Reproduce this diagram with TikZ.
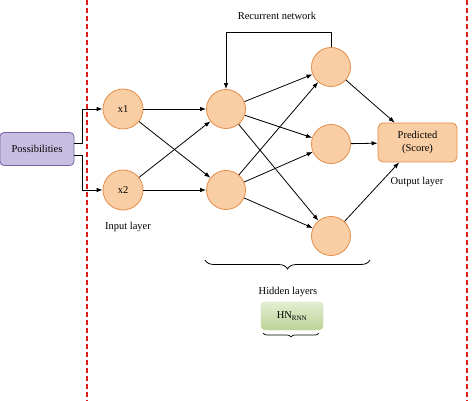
\documentclass[tikz,border=0pt]{standalone}
\usepackage{fontspec}
\setmainfont{Liberation Serif}
\usetikzlibrary{arrows.meta,decorations.pathreplacing,calc}
\definecolor{orfill}{RGB}{250,206,165}
\definecolor{ordraw}{RGB}{228,140,70}
\definecolor{pufill}{RGB}{200,190,226}
\definecolor{pudraw}{RGB}{118,100,160}
\definecolor{sepred}{RGB}{220,30,30}
\definecolor{gtop}{RGB}{228,238,210}
\definecolor{gbot}{RGB}{188,210,150}
\begin{document}
\begin{tikzpicture}[x=1pt,y=-1pt,
  every node/.style={font=\fontsize{10.5}{12.5}\selectfont},
  neuron/.style={circle,draw=ordraw,fill=orfill,line width=0.8pt,minimum size=39pt,inner sep=0pt},
  arr/.style={-{Latex[length=6pt,width=4.5pt]},line width=0.8pt},
  plain/.style={line width=0.8pt},
  sep/.style={color=sepred,line width=1.1pt,dash pattern=on 5pt off 3pt}]
\useasboundingbox (0,0) rectangle (474,401);
\fill[white] (0,0) rectangle (474,401);
\draw[sep] (87,0) -- (87,401);
\draw[sep] (467,0) -- (467,401);
\node[draw=pudraw,fill=pufill,rounded corners=4pt,line width=0.8pt,minimum width=74pt,minimum height=33pt,inner sep=0pt] (poss) at (37,149) {Possibilities};
\node[neuron,minimum size=40pt] (x1) at (123,109) {x1};
\node[neuron,minimum size=40pt] (x2) at (123,190) {x2};
\node[neuron] (h1) at (226,109) {};
\node[neuron] (h2) at (226,190) {};
\node[neuron] (o1) at (331,67) {};
\node[neuron] (o2) at (331,144) {};
\node[neuron] (o3) at (331,236) {};
\node[draw=ordraw,fill=orfill,rounded corners=5pt,line width=0.8pt,minimum width=79pt,minimum height=39pt,inner sep=0pt,align=center] (pred) at (417.5,142.5) {Predicted\\(Score)};
\node (inl) at (128,227) {Input layer};
\node (outl) at (417,182) {Output layer};
\node (recl) at (277,16) {Recurrent network};
\node (hidl) at (288,292) {Hidden layers};
\node[top color=gtop,bottom color=gbot,draw=gbot!80!white,rounded corners=4pt,minimum width=62pt,minimum height=28pt,inner sep=0pt] (hn) at (292,316) {HN\textsubscript{\scriptsize RNN}};
% input connectors
\draw[arr] ([yshift=6pt]poss.east) -- ++(8,0) |- (x1.west);
\draw[arr] ([yshift=-6pt]poss.east) -- ++(8,0) |- (x2.west);
% input to hidden
\foreach \a in {x1,x2}{\foreach \b in {h1,h2}{\draw[arr] (\a) -- (\b);}}
\foreach \a in {h1,h2}{\foreach \b in {o1,o2,o3}{\draw[arr] (\a) -- (\b);}}
\foreach \a in {o1,o2,o3}{\draw[arr] (\a) -- (pred);}
% recurrent
\draw[arr] (o1.north) -- ++(0,-15) -| (h1.north);
% braces
\coordinate (bl) at (205,260);
\coordinate (br) at (370,260);
\draw[plain,decorate,decoration={brace,amplitude=9pt}] (br) -- (bl);
\coordinate (sl) at (263,333);
\coordinate (sr) at (319,333);
\draw[plain,line width=0.7pt,decorate,decoration={brace,amplitude=4pt}] (sr) -- (sl);
\end{tikzpicture}
\end{document}
